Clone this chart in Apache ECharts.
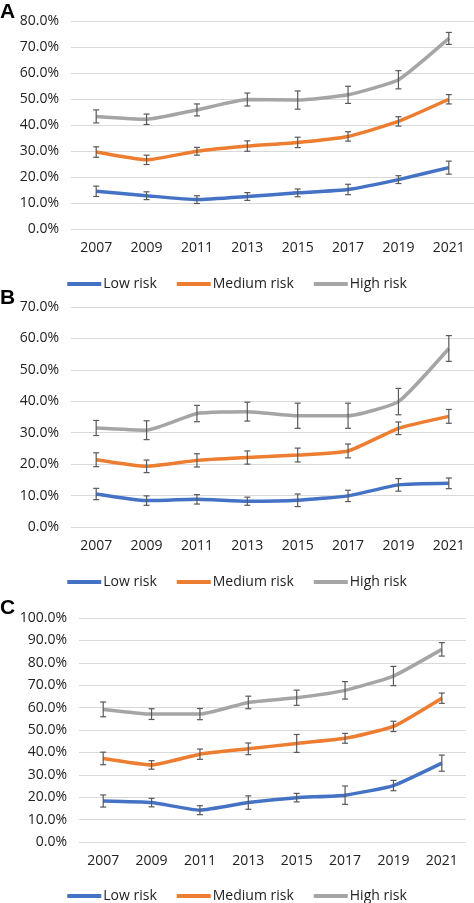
<!DOCTYPE html>
<html>
<head>
<meta charset="utf-8">
<script src="https://cdn.jsdelivr.net/npm/echarts@6/dist/echarts.min.js"></script>
<style>
  html, body { margin: 0; padding: 0; background: #fff; }
  #chart { width: 474px; height: 903px; }
</style>
</head>
<body>
<div id="chart"></div>
<script>
const years = ["2007", "2009", "2011", "2013", "2015", "2017", "2019", "2021"];
const seriesNames = ["Low risk", "Medium risk", "High risk"];
const colors = ["#4472C4", "#ED7D31", "#A5A5A5"];

// panel A
const lowA = [14.5, 12.8, 11.3, 12.5, 13.9, 15.2, 19.0, 23.6];
const lowAErr = [2.0, 1.5, 1.5, 1.5, 1.5, 2.0, 1.5, 2.5];
const medA = [29.6, 26.6, 29.9, 31.9, 33.3, 35.6, 41.4, 49.9];
const medAErr = [2.0, 1.8, 1.5, 2.0, 2.0, 1.8, 1.8, 1.8];
const highA = [43.3, 42.2, 45.8, 49.8, 49.6, 51.6, 57.4, 73.3];
const highAErr = [2.5, 2.0, 2.3, 2.5, 3.5, 3.3, 3.5, 2.3];

// panel B
const lowB = [10.5, 8.4, 8.8, 8.2, 8.5, 9.9, 13.4, 13.9];
const lowBErr = [1.8, 1.5, 1.5, 1.3, 2.0, 1.8, 2.0, 1.7];
const medB = [21.4, 19.3, 21.2, 22.1, 22.9, 24.2, 31.4, 35.2];
const medBErr = [2.2, 2.0, 2.1, 2.1, 2.2, 2.2, 2.0, 2.2];
const highB = [31.5, 30.8, 36.1, 36.7, 35.4, 35.4, 39.9, 56.8];
const highBErr = [2.4, 3.0, 2.6, 3.0, 4.0, 4.0, 4.2, 4.1];

// panel C
const lowC = [18.3, 17.6, 14.2, 17.6, 19.8, 20.9, 25.2, 35.2];
const lowCErr = [2.7, 1.9, 2.0, 3.0, 1.9, 4.1, 2.3, 3.6];
const medC = [37.3, 34.4, 39.2, 41.6, 44.0, 46.3, 51.6, 64.2];
const medCErr = [2.8, 1.9, 2.3, 2.6, 4.0, 2.2, 2.3, 2.3];
const highC = [59.2, 57.1, 57.1, 62.3, 64.4, 67.7, 74.1, 86.0];
const highCErr = [3.3, 2.4, 2.5, 2.8, 3.4, 3.9, 4.3, 3.0];

const panels = [
  { letter: "A", max: 80, data: [[lowA, lowAErr], [medA, medAErr], [highA, highAErr]],
    grid: { left: 71, right: 0, top: 21, height: 208 }, legendTop: 272, letterTop: 2 },
  { letter: "B", max: 70, data: [[lowB, lowBErr], [medB, medBErr], [highB, highBErr]],
    grid: { left: 71, right: 0, top: 307, height: 220 }, legendTop: 570, letterTop: 288 },
  { letter: "C", max: 100, data: [[lowC, lowCErr], [medC, medCErr], [highC, highCErr]],
    grid: { left: 79, right: 8, top: 618, height: 224 }, legendTop: 884, letterTop: 598 }
];

const font = "'Open Sans', sans-serif";
let grids = [], xAxes = [], yAxes = [], series = [], legends = [], graphics = [];

panels.forEach(function(p, i) {
  grids.push(p.grid);
  xAxes.push({
    type: "category", gridIndex: i, data: years,
    axisLine: { show: false }, axisTick: { show: false },
    axisLabel: { color: "#222", fontSize: 14, fontFamily: font, margin: 12 }
  });
  yAxes.push({
    type: "value", gridIndex: i, min: 0, max: p.max, interval: 10,
    axisLabel: { color: "#222", fontSize: 14, fontFamily: font, margin: 12,
      formatter: function(v) { return v.toFixed(1) + "%"; } },
    splitLine: { lineStyle: { color: "#d9d9d9", width: 1 } }
  });
  legends.push({
    top: p.legendTop, left: "center", itemWidth: 34, itemHeight: 4, itemGap: 20,
    icon: "rect", data: seriesNames,
    textStyle: { color: "#222", fontSize: 14, fontFamily: font, padding: [0, 0, 0, -3] }
  });
  graphics.push({
    type: "text", left: 0, top: p.letterTop,
    style: { text: p.letter, font: "bold 21px 'Liberation Sans', Arial", fill: "#000" }
  });
  p.data.forEach(function(d, k) {
    series.push({
      name: seriesNames[k], type: "line", xAxisIndex: i, yAxisIndex: i,
      data: d[0], symbol: "none", smooth: 0.15, color: colors[k],
      lineStyle: { width: 3.5, color: colors[k] }, z: 2
    });
    series.push({
      type: "custom", xAxisIndex: i, yAxisIndex: i, z: 3, silent: true,
      data: d[0].map(function(v, j) { return [j, v - d[1][j], v + d[1][j]]; }),
      renderItem: function(params, api) {
        const lo = api.coord([api.value(0), api.value(1)]);
        const hi = api.coord([api.value(0), api.value(2)]);
        const w = 3;
        const st = { stroke: "#595959", lineWidth: 1.2 };
        return { type: "group", children: [
          { type: "line", shape: { x1: lo[0], y1: lo[1], x2: hi[0], y2: hi[1] }, style: st },
          { type: "line", shape: { x1: lo[0] - w, y1: lo[1], x2: lo[0] + w, y2: lo[1] }, style: st },
          { type: "line", shape: { x1: hi[0] - w, y1: hi[1], x2: hi[0] + w, y2: hi[1] }, style: st }
        ] };
      }
    });
  });
});

const chart = echarts.init(document.getElementById("chart"));
chart.setOption({
  animation: false,
  backgroundColor: "#fff",
  grid: grids, xAxis: xAxes, yAxis: yAxes,
  legend: legends, series: series, graphic: graphics
});
</script>
</body>
</html>
